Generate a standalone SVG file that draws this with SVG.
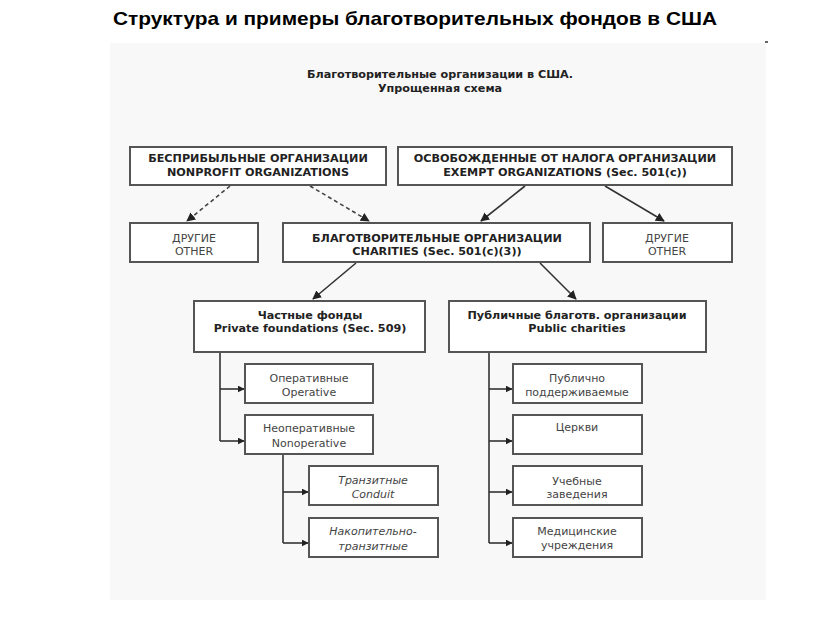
<svg xmlns="http://www.w3.org/2000/svg" width="831" height="623" viewBox="0 0 831 623">
<defs>
<marker id="ah" viewBox="0 0 10 10" refX="9" refY="5" markerWidth="7" markerHeight="7" markerUnits="userSpaceOnUse" orient="auto"><path d="M0,0 L10,5 L0,10 z" fill="#222"/></marker>
<marker id="ah2" viewBox="0 0 10 10" refX="9" refY="5" markerWidth="9" markerHeight="9" markerUnits="userSpaceOnUse" orient="auto"><path d="M0,0 L10,5 L0,10 z" fill="#222"/></marker>
</defs>
<style>
.bx{fill:#fff;stroke:#555;stroke-width:2}
.b{font-family:"DejaVu Sans",Verdana,sans-serif;font-weight:bold;font-size:11.2px;fill:#222;text-anchor:middle}
.n{font-family:"DejaVu Sans",Verdana,sans-serif;font-size:11px;fill:#444;text-anchor:middle}
.i{font-style:italic}
.c{stroke:#333;stroke-width:1.6;fill:none}
.d{stroke:#444;stroke-width:1.6;fill:none;stroke-dasharray:4,3}
</style>
<rect x="0" y="0" width="831" height="623" fill="#fff"/>
<rect x="110" y="43" width="656" height="557" fill="#f8f8f8"/>
<rect x="765" y="41" width="3" height="2" fill="#666"/>
<text x="415" y="25" font-family="Liberation Sans, Arial, sans-serif" font-weight="bold" font-size="18.5" fill="#000" text-anchor="middle" textLength="604" lengthAdjust="spacingAndGlyphs">Структура и примеры благотворительных фондов в США</text>
<text class="b" x="440" y="78" font-size="11">Благотворительные организации в США.</text>
<text class="b" x="440" y="92" font-size="11">Упрощенная схема</text>

<g id="connectors">
<line class="d" x1="230" y1="186" x2="187" y2="221" marker-end="url(#ah2)"/>
<line class="d" x1="310" y1="186" x2="369" y2="221" marker-end="url(#ah2)"/>
<line class="c" x1="525" y1="186" x2="481" y2="221" marker-end="url(#ah2)"/>
<line class="c" x1="605" y1="186" x2="664" y2="221" marker-end="url(#ah2)"/>
<line class="c" x1="356" y1="263" x2="313" y2="299" marker-end="url(#ah2)"/>
<line class="c" x1="540" y1="263" x2="576" y2="299" marker-end="url(#ah2)"/>
<path class="c" d="M220,352 V441"/>
<line class="c" x1="220" y1="389" x2="244" y2="389" marker-end="url(#ah)"/>
<line class="c" x1="220" y1="441" x2="244" y2="441" marker-end="url(#ah)"/>
<path class="c" d="M283,454 V543"/>
<line class="c" x1="283" y1="492" x2="308" y2="492" marker-end="url(#ah)"/>
<line class="c" x1="283" y1="543" x2="308" y2="543" marker-end="url(#ah)"/>
<path class="c" d="M489,352 V543"/>
<line class="c" x1="489" y1="389" x2="512" y2="389" marker-end="url(#ah)"/>
<line class="c" x1="489" y1="441" x2="512" y2="441" marker-end="url(#ah)"/>
<line class="c" x1="489" y1="492" x2="512" y2="492" marker-end="url(#ah)"/>
<line class="c" x1="489" y1="543" x2="512" y2="543" marker-end="url(#ah)"/>
</g>

<g id="nonprofit"><rect class="bx" x="130" y="147" width="256" height="38"/>
<text class="b" x="258" y="162">БЕСПРИБЫЛЬНЫЕ ОРГАНИЗАЦИИ</text><text class="b" x="258" y="176">NONPROFIT ORGANIZATIONS</text></g>
<g id="exempt"><rect class="bx" x="398" y="147" width="334" height="38"/>
<text class="b" x="565" y="162">ОСВОБОЖДЕННЫЕ ОТ НАЛОГА ОРГАНИЗАЦИИ</text><text class="b" x="565" y="176">EXEMPT ORGANIZATIONS (Sec. 501(c))</text></g>
<g id="other1"><rect class="bx" x="130" y="223" width="128" height="39"/>
<text class="n" x="194" y="242">ДРУГИЕ</text><text class="n" x="194" y="255">OTHER</text></g>
<g id="charities"><rect class="bx" x="283" y="223" width="307" height="39"/>
<text class="b" x="437" y="242">БЛАГОТВОРИТЕЛЬНЫЕ ОРГАНИЗАЦИИ</text><text class="b" x="437" y="255">CHARITIES (Sec. 501(c)(3))</text></g>
<g id="other2"><rect class="bx" x="603" y="223" width="129" height="39"/>
<text class="n" x="667" y="242">ДРУГИЕ</text><text class="n" x="667" y="255">OTHER</text></g>
<g id="private"><rect class="bx" x="194" y="301" width="231" height="51"/>
<text class="b" x="310" y="319">Частные фонды</text><text class="b" x="310" y="332">Private foundations (Sec. 509)</text></g>
<g id="public"><rect class="bx" x="449" y="301" width="257" height="51"/>
<text class="b" x="577" y="319">Публичные благотв. организации</text><text class="b" x="577" y="332">Public charities</text></g>
<g id="operative"><rect class="bx" x="245" y="364" width="128" height="39"/>
<text class="n" x="309" y="382">Оперативные</text><text class="n" x="309" y="396">Operative</text></g>
<g id="nonoperative"><rect class="bx" x="245" y="415" width="128" height="39"/>
<text class="n" x="309" y="432">Неоперативные</text><text class="n" x="309" y="447">Nonoperative</text></g>
<g id="conduit"><rect class="bx" x="309" y="466" width="129" height="39"/>
<text class="n i" x="373" y="484">Транзитные</text><text class="n i" x="373" y="498">Conduit</text></g>
<g id="accum"><rect class="bx" x="309" y="518" width="129" height="39"/>
<text class="n i" x="373" y="535">Накопительно-</text><text class="n i" x="373" y="550">транзитные</text></g>
<g id="publicly"><rect class="bx" x="513" y="364" width="129" height="39"/>
<text class="n" x="577" y="382">Публично</text><text class="n" x="577" y="396">поддерживаемые</text></g>
<g id="churches"><rect class="bx" x="513" y="415" width="129" height="39"/>
<text class="n" x="577" y="431">Церкви</text></g>
<g id="schools"><rect class="bx" x="513" y="466" width="129" height="39"/>
<text class="n" x="577" y="485">Учебные</text><text class="n" x="577" y="498">заведения</text></g>
<g id="medical"><rect class="bx" x="513" y="518" width="129" height="39"/>
<text class="n" x="577" y="535">Медицинские</text><text class="n" x="577" y="549">учреждения</text></g>
</svg>
